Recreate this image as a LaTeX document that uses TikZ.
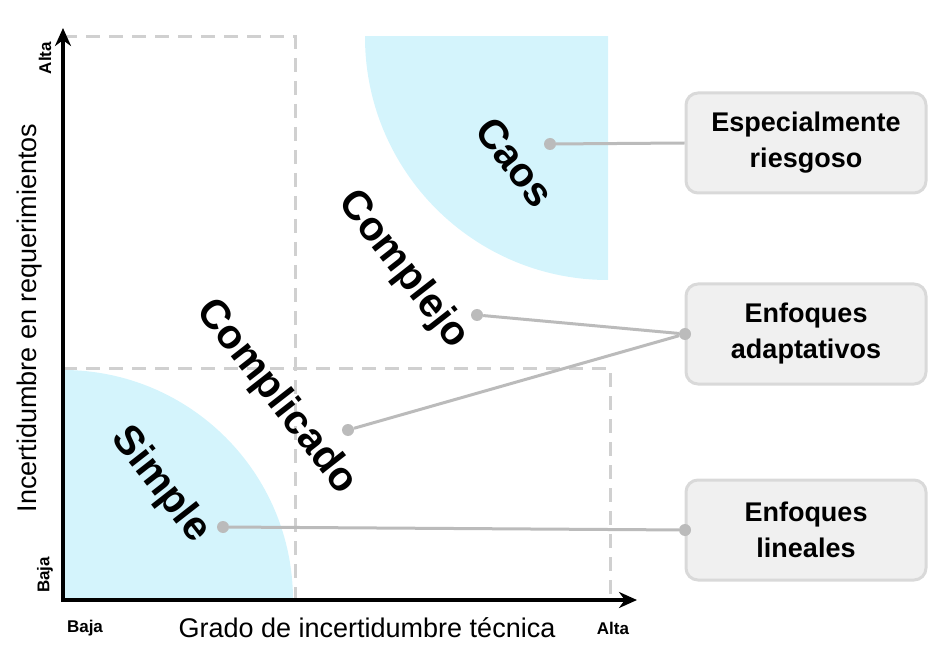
\documentclass[tikz,border=0pt]{standalone}
\usepackage{fontspec}
\setmainfont{Liberation Sans}
\usetikzlibrary{arrows.meta}
\definecolor{lb}{HTML}{D4F4FC}
\definecolor{dashc}{HTML}{D0D0D0}
\definecolor{conc}{HTML}{BBBBBB}
\definecolor{boxf}{HTML}{F0F0F0}
\definecolor{boxd}{HTML}{D9D9D9}
\begin{document}
\begin{tikzpicture}[x=1pt,y=-1pt,
  big/.style={font=\fontsize{41}{45}\selectfont\bfseries,rotate=-52},
  box/.style={draw=boxd,fill=boxf,line width=3pt,rounded corners=12pt,minimum width=240pt,minimum height=100pt,align=center,font=\fontsize{27}{36}\selectfont\bfseries},
  dsh/.style={draw=dashc,line width=3pt,dash pattern=on 14pt off 9pt},
  con/.style={draw=conc,line width=3pt},
  dot/.style={circle,fill=conc,inner sep=0pt,minimum size=12pt},
  sm/.style={font=\fontsize{17}{18}\selectfont\bfseries}]
\useasboundingbox (0,0) rectangle (929,660);
\begin{scope}
\clip (63,370) rectangle (295,600);
\fill[lb] (63,600) circle[radius=230];
\end{scope}
\begin{scope}
\clip (365,37) rectangle (608,280);
\fill[lb] (608,37) circle[radius=243];
\end{scope}
\draw[dsh] (63,37) -- (295,37) -- (295,600);
\draw[dsh] (63,368) -- (610,368) -- (610,600);
\draw[line width=4pt,-{Stealth[length=18pt,width=16pt]}] (63,600) -- (63,28);
\draw[line width=4pt,-{Stealth[length=18pt,width=16pt]}] (61,600) -- (637,600);
\node[big] (caos) at (515,162) {Caos};
\node[big] (complejo) at (403,270) {Complejo};
\node[big] (complicado) at (276,397) {Complicado};
\node[big] (simple) at (160,485) {Simple};
\node[box] (b1) at (806,143) {Especialmente\\riesgoso};
\node[box] (b2) at (806,334) {Enfoques\\adaptativos};
\node[box] (b3) at (806,530) {Enfoques\\lineales};
\node[dot] (d1) at (550,144) {};
\node[dot] (d2) at (477,315) {};
\node[dot] (d3) at (348,430) {};
\node[dot] (d4) at (223,527) {};
\node[dot] (e2) at (685,334) {};
\node[dot] (e3) at (685,530) {};
\draw[con] (d1) -- (b1.west);
\draw[con] (d2) -- (e2);
\draw[con] (d3) -- (e2);
\draw[con] (d4) -- (e3);
\node[sm,rotate=90] (ya) at (45,58) {Alta};
\node[sm,rotate=90] (yb) at (45,575) {Baja};
\node[sm] (xb) at (85,628) {Baja};
\node[sm] (xa) at (613,628) {Alta};
\node[font=\fontsize{27}{30}\selectfont] (xl) at (367,628) {Grado de incertidumbre técnica};
\node[font=\fontsize{27}{30}\selectfont,rotate=90] (yl) at (30,318) {Incertidumbre en requerimientos};
\end{tikzpicture}
\end{document}
